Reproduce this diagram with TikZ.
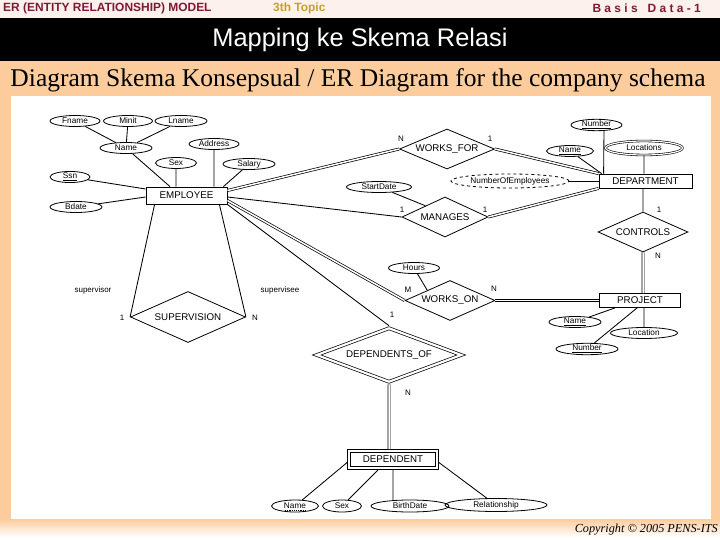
\documentclass[tikz,border=0pt]{standalone}
\usepackage{fontspec}
\setmainfont{Liberation Serif}
\newfontfamily\arialf{Liberation Sans}
\usetikzlibrary{shapes.geometric,calc}
\definecolor{peach}{RGB}{252,204,156}
\definecolor{topstrip}{RGB}{252,241,236}
\definecolor{hdrred}{RGB}{128,24,56}
\definecolor{hdrgold}{RGB}{196,160,40}
\begin{document}
\begin{tikzpicture}[x=1bp,y=-1bp,
  every node/.style={inner sep=0pt},
  attr/.style={ellipse, draw, line width=0.8bp, minimum height=11bp, font=\arialf\fontsize{8.3}{9}\selectfont},
  ent/.style={rectangle, draw, line width=0.8bp, font=\arialf\fontsize{9.8}{11}\selectfont},
  rel/.style={diamond, draw, line width=0.8bp, font=\arialf\fontsize{9.8}{11}\selectfont},
  lnk/.style={line width=0.85bp},
  dlnk/.style={line width=0.7bp, double, double distance=1.5bp},
  card/.style={font=\arialf\fontsize{8}{9}\selectfont},
  hdr/.style={font=\arialf\bfseries\fontsize{12}{12}\selectfont},
]
\useasboundingbox (0,0) rectangle (720,540);
% background
\fill[topstrip] (0,0) rectangle (720,18);
\fill[black] (0,18) rectangle (720,61);
\fill[peach] (0,61) rectangle (720,520);
\shade[top color=peach, bottom color=white] (0,519) rectangle (720,537);
\fill[white] (0,537) rectangle (720,540);
\fill[white] (11,96) rectangle (711,519);

% headers
\node[hdr, anchor=west, text=hdrred] (h1) at (3,8.5) {ER (ENTITY RELATIONSHIP) MODEL};
\node[hdr, anchor=west, text=hdrgold] (h2) at (273,8.5) {3th Topic};
\node[hdr, anchor=east, text=hdrred] (h3) at (701,8.5) {B a s i s ~ D a t a - 1};
\node[text=white, font=\arialf\fontsize{25.5}{26}\selectfont] (ttl) at (360,40) {Mapping ke Skema Relasi};
\node (sub) at (358,80) {\resizebox{695bp}{!}{\fontsize{22}{22}\selectfont Diagram Skema Konsepsual / ER Diagram for the company schema}};
\node[anchor=east] (copy) at (718,530) {\resizebox{143bp}{!}{\itshape\fontsize{11}{11}\selectfont Copyright © 2005 PENS-ITS}};

% EMPLOYEE side
\node[attr, minimum width=50bp] (fname) at (75,121) {Fname};
\node[attr, minimum width=49bp] (minit) at (128,121) {Minit};
\node[attr, minimum width=52bp] (lname) at (181,121) {Lname};
\node[attr, minimum width=52bp] (ename) at (126,148) {Name};
\node[attr, minimum width=50bp] (addr) at (214,144) {Address};
\node[attr, minimum width=41bp] (esex) at (176,163) {Sex};
\node[attr, minimum width=52bp] (sal) at (249,164) {Salary};
\node[attr, minimum width=40bp] (ssn) at (70,177) {\underline{Ssn}};
\node[attr, minimum width=52bp] (bdate) at (76,207) {Bdate};
\node[ent, minimum width=81bp, minimum height=17bp] (emp) at (186.5,195.5) {EMPLOYEE};
\node[rel, aspect=2.25, minimum width=115bp, minimum height=51bp] (sup) at (188,317) {SUPERVISION};

% relationships and entities
\node[rel, aspect=2.4, minimum width=95bp, minimum height=40bp] (wf) at (447,149) {WORKS\_FOR};
\node[ent, minimum width=93bp, minimum height=14bp] (dept) at (645.5,181) {DEPARTMENT};
\node[attr, minimum width=51bp, minimum height=10bp] (num) at (596.5,125) {\underline{Number}};
\node[attr, minimum width=47bp] (dname) at (570,151) {\underline{Name}};
\node[attr, minimum width=77bp, minimum height=14bp, double, double distance=1.2bp, line width=0.6bp] (loc) at (644,148) {Locations};
\node[attr, minimum width=118bp, minimum height=14bp, dashed] (noe) at (510,181) {NumberOfEmployees};
\node[attr, minimum width=65bp] (sdate) at (379,187) {StartDate};
\node[rel, aspect=2.15, minimum width=86bp, minimum height=40bp] (man) at (445,217) {MANAGES};
\node[rel, aspect=2.25, minimum width=90bp, minimum height=40bp] (ctrl) at (643,232) {CONTROLS};
\node[ent, minimum width=81bp, minimum height=14bp] (proj) at (640,300.5) {PROJECT};
\node[attr, minimum width=52bp] (pname) at (575,322) {\underline{Name}};
\node[attr, minimum width=67bp] (ploc) at (644,333) {Location};
\node[attr, minimum width=62bp] (pnum) at (587,349) {\underline{Number}};
\node[attr, minimum width=51bp] (hours) at (414,268) {Hours};
\node[rel, aspect=2.25, minimum width=90bp, minimum height=40bp] (won) at (450,300.5) {WORKS\_ON};
\node[rel, aspect=2.65, minimum width=146bp, minimum height=55bp, double, double distance=2.2bp, line width=0.7bp, outer sep=1.8bp] (depof) at (389,355) {DEPENDENTS\_OF};
\node[ent, minimum width=88bp, minimum height=17bp, double, double distance=2.4bp, line width=0.7bp, outer sep=1.9bp] (dep) at (393,459.5) {DEPENDENT};
\node[attr, minimum width=47bp, minimum height=12bp] (dn) at (295,506) {Name};
\node[attr, minimum width=39bp, minimum height=12bp] (ds) at (342,506) {Sex};
\node[attr, minimum width=78bp, minimum height=12bp] (dbd) at (410,506) {BirthDate};
\node[attr, minimum width=102bp, minimum height=13bp] (drel) at (496,505) {Relationship};
\draw[line width=0.6bp, dash pattern=on 1.2bp off 1bp] ([xshift=-10bp,yshift=-4bp]dn.center) -- ([xshift=10bp,yshift=-4bp]dn.center);

% employee attribute links
\draw[lnk] (fname) -- (ename);
\draw[lnk] (minit) -- (ename);
\draw[lnk] (lname) -- (ename);
\draw[lnk] (ename) -- ([xshift=-16.5bp]emp.north);
\draw[lnk] (esex.south) -- ([xshift=-10.5bp]emp.north);
\draw[lnk] (addr.south) -- ([xshift=27.5bp]emp.north);
\draw[lnk] (sal) -- ([xshift=-4bp]emp.north east);
\draw[lnk] (ssn) -- ([yshift=6.5bp]emp.west);
\draw[lnk] (bdate) -- ([yshift=-1.5bp]emp.west);

% supervision
\draw[lnk] ([xshift=9bp]emp.south west) -- (sup.west);
\draw[lnk] ([xshift=-8bp]emp.south east) -- (sup.east);

% employee relationships
\draw[dlnk] ([yshift=5bp]emp.east) -- (wf.west);
\draw[lnk] ([yshift=-1.5bp]emp.east) -- (man.west);
\draw[dlnk] ([yshift=-5bp]emp.east) -- (won.west);
\draw[lnk] (emp.south east) -- (depof.north);

% department
\draw[dlnk] (wf.east) -- (dept.north west);
\draw[dlnk] (man.east) -- (dept.south west);
\draw[lnk] (noe.east) -- (dept.west);
\draw[lnk] ([xshift=7.5bp,yshift=0.3bp]num.south) -- ([xshift=5bp]dept.north west);
\draw[lnk] (dname) -- ([xshift=3bp]dept.north west);
\draw[lnk] (loc.south) -- ([xshift=-1.5bp]dept.north);
\draw[lnk] (sdate) -- ($(man.north)!0.45!(man.west)$);
\draw[lnk] (ctrl.north) -- ([xshift=-2.5bp]dept.south);
\draw[dlnk] (ctrl.south) -- ([xshift=3bp]proj.north);

% project
\draw[dlnk] (won.east) -- (proj.west);
\draw[lnk] (hours) -- ($(won.north)!0.5!(won.west)$);
\draw[lnk] (pname) -- ([xshift=16bp]proj.south west);
\draw[lnk] (pnum) -- ([xshift=38bp]proj.south west);
\draw[lnk] (ploc.north) -- ([xshift=4bp]proj.south);

% dependents
\draw[dlnk] (depof.south) -- ([xshift=-4bp]dep.north);
\draw[lnk] (dn) -- ([yshift=-3bp]dep.west);
\draw[lnk] (ds) -- ([xshift=31bp]dep.south west);
\draw[lnk] (dep.south) -- ([xshift=-17bp,yshift=5.4bp]dbd.center);
\draw[lnk] (drel) -- ([yshift=-3bp]dep.east);

% cardinalities and role names
\node[card] (c1) at (401,139) {N};
\node[card] (c2) at (490,139) {1};
\node[card] (c3) at (402,210) {1};
\node[card] (c4) at (485,210) {1};
\node[card] (c5) at (659,210) {1};
\node[card] (c6) at (658,256) {N};
\node[card] (c7) at (408,290) {M};
\node[card] (c8) at (494,289) {N};
\node[card] (c9) at (392,315) {1};
\node[card] (c10) at (408,393) {N};
\node[card] (c11) at (122,318) {1};
\node[card] (c12) at (255,318) {N};
\node[card] (r1) at (93,290) {supervisor};
\node[card] (r2) at (280,290) {supervisee};
\end{tikzpicture}
\end{document}
